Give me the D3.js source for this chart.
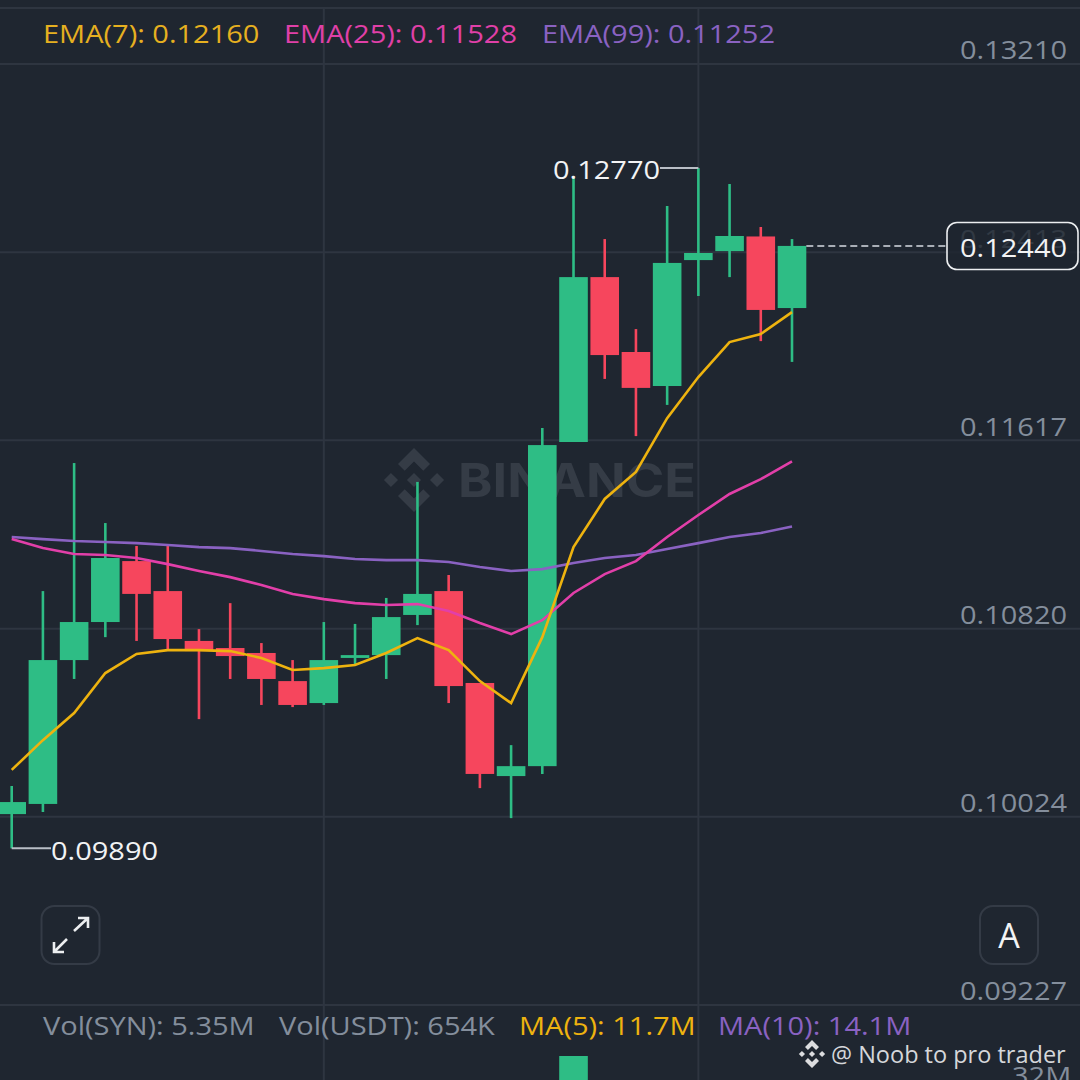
<!doctype html>
<html lang="en">
  <head>
    <meta charset="UTF-8" />
    <title>SYN/USDT candles</title>
    <style>
      html, body { margin: 0; padding: 0; background: #1f2630; }
      svg { display: block; }
      text { font-family: "Open Sans", sans-serif; }
    </style>
  </head>
  <body>
    <div id="chart"></div>
    <script src="https://d3js.org/d3.v7.min.js"></script>
    <script>
      // candle values
      const opens = [0.10035, 0.10078, 0.10687, 0.10848, 0.11106, 0.10979, 0.10768, 0.10738, 0.10717, 0.10598, 0.10505, 0.10696, 0.10708, 0.10878, 0.10979, 0.1059, 0.10196, 0.10238, 0.1161, 0.12308, 0.11991, 0.11847, 0.1238, 0.12418, 0.1248, 0.12177];
      const highs = [0.10154, 0.10979, 0.11521, 0.11267, 0.1117, 0.11174, 0.10818, 0.10928, 0.10759, 0.10687, 0.10848, 0.1084, 0.1095, 0.11441, 0.11047, 0.1059, 0.10327, 0.11669, 0.12727, 0.12469, 0.12088, 0.12609, 0.1277, 0.12702, 0.1252, 0.12469];
      const lows = [0.0989, 0.10044, 0.10607, 0.10784, 0.10768, 0.10729, 0.10437, 0.10607, 0.10497, 0.10488, 0.10497, 0.10666, 0.10607, 0.10835, 0.10505, 0.10145, 0.10018, 0.10205, 0.1161, 0.11877, 0.11635, 0.11767, 0.12228, 0.12308, 0.12037, 0.11949];
      const closes = [0.10086, 0.10687, 0.10848, 0.11119, 0.10967, 0.10776, 0.10725, 0.10704, 0.10607, 0.10497, 0.10687, 0.10708, 0.10869, 0.10967, 0.10577, 0.10205, 0.10238, 0.11597, 0.12308, 0.11978, 0.11839, 0.12368, 0.1241, 0.12482, 0.12169, 0.1244];

      const ema7 = [0.10222, 0.10348, 0.10463, 0.10632, 0.10713, 0.10729, 0.10729, 0.10725, 0.10696, 0.10645, 0.10653, 0.10666, 0.10717, 0.1078, 0.10729, 0.10598, 0.10505, 0.10784, 0.11165, 0.11369, 0.11483, 0.11711, 0.11885, 0.12033, 0.12067, 0.1216];
      const ema25 = [0.11199, 0.11161, 0.11136, 0.11132, 0.11119, 0.11093, 0.11064, 0.11038, 0.11005, 0.10967, 0.10945, 0.10928, 0.1092, 0.10924, 0.10895, 0.10844, 0.10797, 0.10856, 0.10971, 0.11051, 0.11106, 0.11208, 0.11301, 0.1139, 0.11453, 0.11528];
      const ema99 = [0.11208, 0.11199, 0.11191, 0.11187, 0.11182, 0.11174, 0.11165, 0.11161, 0.11149, 0.11136, 0.11127, 0.11115, 0.1111, 0.1111, 0.11102, 0.11081, 0.11064, 0.11072, 0.11098, 0.11119, 0.11132, 0.11157, 0.11182, 0.11208, 0.11225, 0.11252];

      const priceTicks = [0.1321, 0.12413, 0.11617, 0.1082, 0.10024, 0.09227];
      const extraGrid = [0.13447];
      const timeGrid = [10, 22];

      // only one volume bar pokes into the frame
      const volumeIndex = [18];
      const volumeValues = [36e6];

      const lastPrice = 0.1244;
      const highPrice = 0.1277;
      const highIndex = 22;
      const lowPrice = 0.0989;
      const lowIndex = 0;

      const legendTop = ['EMA(7): 0.12160', 'EMA(25): 0.11528', 'EMA(99): 0.11252'];
      const legendBottom = ['Vol(SYN): 5.35M', 'Vol(USDT): 654K', 'MA(5): 11.7M', 'MA(10): 14.1M'];

      const bg = '#1f2630';
      const gridColor = '#2e3540';
      const green = '#2ebd85';
      const red = '#f6465d';
      const grey = '#848e9c';
      const labelSize = '26px';

      const svg = d3.select('#chart').append('svg').attr('width', 1080).attr('height', 1080).style('background', bg);

      const x = d3.scaleLinear().domain([0, 25]).range([11.7, 792]);
      const y = d3.scaleLinear().domain([0.1321, 0.09227]).range([64, 1005]);
      const yVol = d3.scaleLinear().domain([32e6, 36e6]).range([1075, 1056]);

      // Grid
      svg
        .selectAll('.hgrid')
        .data(priceTicks.concat(extraGrid))
        .enter()
        .append('line')
        .attr('x1', 0)
        .attr('x2', 1080)
        .attr('y1', (d) => y(d))
        .attr('y2', (d) => y(d))
        .attr('stroke', gridColor)
        .attr('stroke-width', 2);

      svg
        .selectAll('.vgrid')
        .data(timeGrid)
        .enter()
        .append('line')
        .attr('x1', (d) => x(d))
        .attr('x2', (d) => x(d))
        .attr('y1', y(extraGrid[0]))
        .attr('y2', 1080)
        .attr('stroke', gridColor)
        .attr('stroke-width', 2);

      // Binance diamond mark, R = half width
      function logo(parent, cx, cy, R, fill) {
        const unit = [
          [[0, -1], [0.5, -0.5], [0.29, -0.29], [0, -0.58], [-0.29, -0.29], [-0.5, -0.5]],
          [[0, 1], [0.5, 0.5], [0.29, 0.29], [0, 0.58], [-0.29, 0.29], [-0.5, 0.5]],
          [[0, -0.22], [0.22, 0], [0, 0.22], [-0.22, 0]],
          [[-0.72, -0.22], [-0.5, 0], [-0.72, 0.22], [-0.94, 0]],
          [[0.72, -0.22], [0.94, 0], [0.72, 0.22], [0.5, 0]],
        ];
        const g = parent.append('g').attr('transform', `translate(${cx},${cy}) scale(${R})`);
        g.selectAll('path')
          .data(unit)
          .enter()
          .append('path')
          .attr('d', (d) => d3.line()(d) + 'Z')
          .attr('fill', fill);
      }

      // Watermark sits under the candles
      logo(svg, 414, 480, 32, '#353c46');
      svg
        .append('text')
        .attr('x', 458)
        .attr('y', 497)
        .attr('textLength', 238)
        .attr('lengthAdjust', 'spacingAndGlyphs')
        .style('font-family', 'Inter')
        .style('font-weight', 700)
        .style('font-size', '47px')
        .attr('fill', '#353c46')
        .text('BINANCE');

      // Axis labels
      const axis = d3.axisRight(y).tickValues(priceTicks).tickFormat(d3.format('.5f')).tickSize(0).tickPadding(0);
      const axisG = svg.append('g').attr('transform', 'translate(960,0)').call(axis);
      axisG.select('.domain').remove();
      axisG
        .selectAll('text')
        .attr('class', 'wide')
        .attr('dy', '-0.2em')
        .attr('fill', grey)
        .style('font-size', labelSize)
        .style('font-family', '"Open Sans", sans-serif');

      // Candles
      const candles = svg
        .selectAll('.candle')
        .data(opens.map((o, i) => ({ i, o, h: highs[i], l: lows[i], c: closes[i] })))
        .enter()
        .append('g')
        .attr('class', 'candle');

      candles
        .append('line')
        .attr('x1', (d) => x(d.i))
        .attr('x2', (d) => x(d.i))
        .attr('y1', (d) => y(d.h))
        .attr('y2', (d) => y(d.l))
        .attr('stroke', (d) => (d.c >= d.o ? green : red))
        .attr('stroke-width', 2.6);

      candles
        .append('rect')
        .attr('x', (d) => x(d.i) - 14.3)
        .attr('width', 28.6)
        .attr('y', (d) => y(Math.max(d.o, d.c)))
        .attr('height', (d) => Math.abs(y(d.o) - y(d.c)))
        .attr('fill', (d) => (d.c >= d.o ? green : red));

      // EMA lines
      const lineGen = d3
        .line()
        .x((d, i) => x(i))
        .y((d) => y(d));

      [
        [ema99, '#8a62c2'],
        [ema25, '#e23fa9'],
        [ema7, '#eeb30f'],
      ].forEach(([values, color]) => {
        svg.append('path').datum(values).attr('d', lineGen).attr('fill', 'none').attr('stroke', color).attr('stroke-width', 2.6);
      });

      // High and low callouts
      const callout = '#b9bec6';
      svg
        .append('path')
        .attr('d', d3.line()([[660, y(highPrice)], [x(highIndex), y(highPrice)]]))
        .attr('stroke', callout)
        .attr('stroke-width', 2)
        .attr('fill', 'none');
      svg
        .append('path')
        .attr('d', d3.line()([[x(lowIndex), y(lowPrice)], [51, y(lowPrice)]]))
        .attr('stroke', callout)
        .attr('stroke-width', 2)
        .attr('fill', 'none');
      svg
        .append('text')
        .attr('class', 'wide')
        .attr('x', 553)
        .attr('y', y(highPrice) + 11.5)
        .attr('fill', '#f2f3f4')
        .style('font-size', labelSize)
        .text(d3.format('.5f')(highPrice));
      svg
        .append('text')
        .attr('class', 'wide')
        .attr('x', 51)
        .attr('y', y(lowPrice) + 11.5)
        .attr('fill', '#f2f3f4')
        .style('font-size', labelSize)
        .text(d3.format('.5f')(lowPrice));

      // Last price marker
      svg
        .append('line')
        .attr('x1', x(25) + 14.3)
        .attr('x2', 947)
        .attr('y1', y(lastPrice))
        .attr('y2', y(lastPrice))
        .attr('stroke', '#a9aeb6')
        .attr('stroke-width', 2)
        .attr('stroke-dasharray', '7 4');
      svg
        .append('rect')
        .attr('x', 947)
        .attr('y', 222.5)
        .attr('width', 131)
        .attr('height', 47)
        .attr('rx', 10)
        .attr('fill', bg)
        .attr('fill-opacity', 0.82)
        .attr('stroke', '#eceef0')
        .attr('stroke-width', 1.6);
      svg
        .append('text')
        .attr('class', 'wide')
        .attr('x', 960)
        .attr('y', 257)
        .attr('fill', '#f2f3f4')
        .style('font-size', labelSize)
        .text(d3.format('.5f')(lastPrice));

      // Volume pane
      svg
        .selectAll('.vol')
        .data(volumeIndex)
        .enter()
        .append('rect')
        .attr('x', (d) => x(d) - 14.3)
        .attr('width', 28.6)
        .attr('y', (d, i) => yVol(volumeValues[i]))
        .attr('height', (d, i) => 1080 - yVol(volumeValues[i]))
        .attr('fill', green);
      svg
        .append('text')
        .attr('class', 'wide')
        .attr('x', 1012)
        .attr('y', yVol(32e6) + 10)
        .attr('fill', grey)
        .style('font-size', labelSize)
        .text('32M');

      // Legends
      const topX = [43, 284, 542];
      const topColors = ['#e6b020', '#e040a8', '#8a62c2'];
      svg
        .selectAll('.legend-top')
        .data(legendTop)
        .enter()
        .append('text')
        .attr('class', 'wide')
        .attr('x', (d, i) => topX[i])
        .attr('y', 43)
        .attr('fill', (d, i) => topColors[i])
        .style('font-size', labelSize)
        .text((d) => d);

      const bottomX = [43, 279, 519, 718];
      const bottomColors = [grey, grey, '#eeb30f', '#8a62c2'];
      svg
        .selectAll('.legend-bottom')
        .data(legendBottom)
        .enter()
        .append('text')
        .attr('class', 'wide')
        .attr('x', (d, i) => bottomX[i])
        .attr('y', 1035)
        .attr('fill', (d, i) => bottomColors[i])
        .style('font-size', labelSize)
        .text((d) => d);

      // Buttons
      [41.5, 980].forEach((bx) => {
        svg
          .append('rect')
          .attr('x', bx)
          .attr('y', 906)
          .attr('width', 58)
          .attr('height', 58)
          .attr('rx', 13)
          .attr('fill', 'none')
          .attr('stroke', '#343b46')
          .attr('stroke-width', 2);
      });
      svg
        .append('text')
        .attr('x', 1009)
        .attr('y', 948)
        .attr('text-anchor', 'middle')
        .attr('fill', '#f2f3f4')
        .style('font-size', '34px')
        .text('A');
      svg
        .append('path')
        .attr('d', 'M74 931L88 918M78 918H88V928M67 939L54 952M54 942V952H64')
        .attr('fill', 'none')
        .attr('stroke', '#eceef0')
        .attr('stroke-width', 2.6);

      // Reposter stamp
      logo(svg, 812, 1054, 14, '#dcdddf');
      svg
        .append('text')
        .attr('x', 831)
        .attr('y', 1063)
        .attr('fill', '#d5d7da')
        .style('font-size', '23.5px')
        .text('@ Noob to pro trader');

      // The app's font runs wider than Open Sans, stretch the labels to suit
      svg.selectAll('text.wide').each(function () {
        const t = d3.select(this);
        t.attr('textLength', this.getComputedTextLength() * 1.115).attr('lengthAdjust', 'spacingAndGlyphs');
      });
    </script>
  </body>
</html>
